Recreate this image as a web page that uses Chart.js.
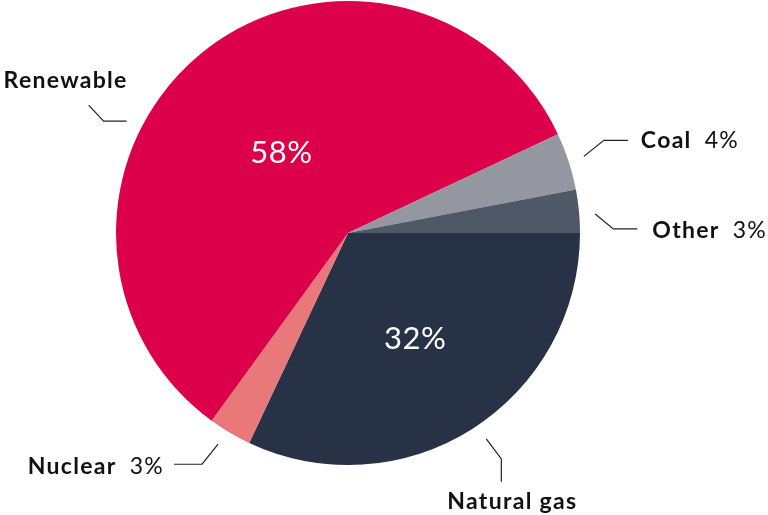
<!DOCTYPE html>
<html>
<head>
<meta charset="utf-8">
<script src="https://cdn.jsdelivr.net/npm/chart.js@4/dist/chart.umd.min.js"></script>
<style>
  html, body { margin: 0; padding: 0; background: #fff; }
  #wrap { width: 768px; height: 515px; }
</style>
</head>
<body>
<div id="wrap"><canvas id="myChart"></canvas></div>
<script>
const categories = ['Natural gas', 'Nuclear', 'Renewable', 'Coal', 'Other'];
const shares = [32, 3, 58, 4, 3];
const colors = ['#283246', '#e8787a', '#dc004b', '#9497a0', '#4f5867'];

// how each label is shown: inside the slice, or outside on a bent leader line
const labelStyle = {
    'Natural gas': { shift: -1.5, path: [[15, 20], [0, 23]], text: [11, 20], align: 'center', pct: false },
    'Nuclear':     { shift: 1, path: [[-16, 20], [-28, 0]], text: [-10, 2], align: 'right', pct: true },
    'Renewable':   { shift: -23.6, path: [[-23, 0], [-15, -16]], text: [-23, -25], align: 'center', pct: false },
    'Coal':        { shift: 0, path: [[20, -16], [24, 0]], text: [13, 0], align: 'left', pct: true },
    'Other':       { shift: 1, path: [[18, 15], [24, 0]], text: [15, 2], align: 'left', pct: true },
};
const insideLabels = { 'Renewable': 0.45, 'Natural gas': 0.54 };

const boldFont = 'bold 23px Lato';
const normFont = '23px Lato';
const spacing = '1.3px';

const pieLabels = {
    id: 'pieLabels',
    afterDraw(chart) {
        const ctx = chart.ctx;
        const arcs = chart.getDatasetMeta(0).data;
        ctx.save();
        arcs.forEach((arc, i) => {
            const name = categories[i];
            const { x, y, startAngle, endAngle, outerRadius } = arc.getProps(['x', 'y', 'startAngle', 'endAngle', 'outerRadius'], true);
            const mid = (startAngle + endAngle) / 2;

            if (insideLabels[name]) {
                const r = outerRadius * insideLabels[name];
                ctx.fillStyle = '#ffffff';
                ctx.font = '31px Lato';
                ctx.letterSpacing = '0.5px';
                ctx.textAlign = 'center';
                ctx.textBaseline = 'middle';
                ctx.fillText(shares[i] + '%', x + r * Math.cos(mid), y + r * Math.sin(mid));
            }

            const st = labelStyle[name];
            const a = mid + st.shift * Math.PI / 180;
            let px = x + (outerRadius + 16) * Math.cos(a);
            let py = y + (outerRadius + 16) * Math.sin(a);
            ctx.strokeStyle = '#222';
            ctx.lineWidth = 1.2;
            ctx.beginPath();
            ctx.moveTo(px, py);
            st.path.forEach(([dx, dy]) => {
                px += dx; py += dy;
                ctx.lineTo(px, py);
            });
            ctx.stroke();

            const tx = px + st.text[0];
            const ty = py + st.text[1];
            ctx.fillStyle = '#111';
            ctx.textBaseline = 'middle';
            ctx.letterSpacing = spacing;
            const pctText = st.pct ? shares[i] + '%' : '';
            ctx.font = boldFont;
            const wName = ctx.measureText(name).width;
            ctx.font = normFont;
            const gap = st.pct ? 13 : 0;
            const wPct = ctx.measureText(pctText).width;
            const total = wName + gap + wPct;
            let left = tx;
            if (st.align === 'center') left = tx - total / 2;
            if (st.align === 'right') left = tx - total;
            ctx.textAlign = 'left';
            ctx.font = boldFont;
            ctx.fillText(name, left, ty);
            if (st.pct) {
                ctx.font = normFont;
                ctx.fillText(pctText, left + wName + gap, ty);
            }
        });
        ctx.restore();
    }
};

const chart = document.getElementById('myChart');
new Chart(chart, {
    type: 'pie',
    data: {
        labels: categories,
        datasets: [{
            data: shares,
            backgroundColor: colors,
            borderWidth: 0
        }]
    },
    options: {
        responsive: true,
        maintainAspectRatio: false,
        animation: false,
        rotation: 90,
        layout: { padding: { left: 116, right: 188, top: 1, bottom: 50 } },
        plugins: {
            legend: false,
            tooltip: { enabled: false }
        }
    },
    plugins: [pieLabels]
});
</script>
</body>
</html>
